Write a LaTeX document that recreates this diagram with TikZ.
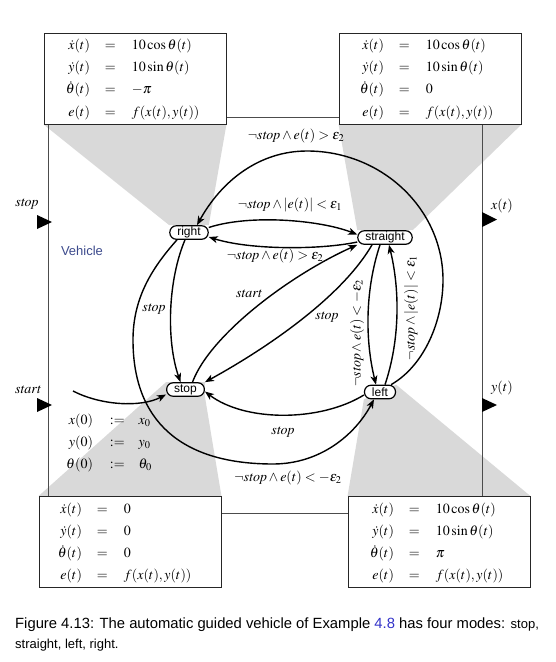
\documentclass[tikz,border=0pt]{standalone}
\usepackage{mathptmx}
\usepackage[no-math]{fontspec}
\newfontfamily\helv{Liberation Sans}
\usetikzlibrary{arrows.meta,backgrounds}
\definecolor{vehblue}{RGB}{60,74,140}
\definecolor{linkblue}{RGB}{50,50,200}
\tikzset{
  mode/.style={draw, line width=1.2pt, rounded corners=6.5pt, fill=white,
    font=\helv\fontsize{12}{14}\selectfont, inner xsep=7.5pt, inner ysep=0pt, minimum height=13.5pt},
  eqbox/.style={draw=black!85, line width=0.9pt, fill=white, minimum width=182pt, minimum height=91pt, inner sep=0pt},
  eqs/.style={inner sep=0pt, anchor=west, font=\fontsize{14}{17}\selectfont},
  trans/.style={line width=1.4pt, -{Stealth[length=9pt,width=7pt,inset=2.5pt]}},
  lbl/.style={inner sep=1pt, font=\fontsize{14}{17}\selectfont},
  shade/.style={fill=black!15},
  portmark/.style={fill=black},
}
\newcommand{\eqarray}[1]{$\renewcommand{\arraystretch}{1.3}\begin{array}{@{}r@{\hspace{15pt}}c@{\hspace{16pt}}l@{}}#1\end{array}$}
\begin{document}
\begin{tikzpicture}[x=1pt,y=-1pt]
\useasboundingbox (0,0) rectangle (556,662);

% mode nodes
\node[mode] (right) at (189,232.5) {right};
\node[mode] (straight) at (385,237.5) {straight};
\node[mode] (stop) at (185.5,389.5) {stop};
\node[mode] (left) at (380,392) {left};

% equation boxes
\node[eqbox] (tl) at (135,78.5) {};
\node[eqbox] (tr) at (430,78.5) {};
\node[eqbox] (bl) at (130,542) {};
\node[eqbox] (br) at (439,542) {};

\node[eqs] (tleq) at ([xshift=22pt]tl.west) {\eqarray{\dot{x}(t) & = & 10\cos\theta(t)\\ \dot{y}(t) & = & 10\sin\theta(t)\\ \dot{\theta}(t) & = & -\pi\\ e(t) & = & f(x(t),y(t))}};
\node[eqs] (treq) at ([xshift=21pt]tr.west) {\eqarray{\dot{x}(t) & = & 10\cos\theta(t)\\ \dot{y}(t) & = & 10\sin\theta(t)\\ \dot{\theta}(t) & = & 0\\ e(t) & = & f(x(t),y(t))}};
\node[eqs] (bleq) at ([xshift=19pt]bl.west) {\eqarray{\dot{x}(t) & = & 0\\ \dot{y}(t) & = & 0\\ \dot{\theta}(t) & = & 0\\ e(t) & = & f(x(t),y(t))}};
\node[eqs] (breq) at ([xshift=22pt]br.west) {\eqarray{\dot{x}(t) & = & 10\cos\theta(t)\\ \dot{y}(t) & = & 10\sin\theta(t)\\ \dot{\theta}(t) & = & \pi\\ e(t) & = & f(x(t),y(t))}};

\begin{scope}[on background layer]
  \fill[shade] (tl.south west) -- (tl.south east) -- (right.north east) -- (right.north west) -- cycle;
  \fill[shade] (tr.south west) -- (tr.south east) -- (straight.north east) -- (straight.north west) -- cycle;
  \fill[shade] (bl.north west) -- (bl.north east) -- (stop.south east) -- (stop.north east) -- (stop.north west) -- cycle;
  \fill[shade] (br.north west) -- (br.north east) -- (left.north east) -- (left.south west) -- cycle;
  \draw[black!70, line width=1pt] (48,117) rectangle (482,513);
\end{scope}

% ports
\fill[portmark] (37,215) -- (52,222) -- (37,229) -- cycle;
\fill[portmark] (37,398) -- (52,405) -- (37,412) -- cycle;
\fill[portmark] (482,212) -- (497,219.5) -- (482,227) -- cycle;
\fill[portmark] (482,398) -- (497,405) -- (482,412) -- cycle;
\node[lbl] (pstop) at (27,204) {$\mathit{stop}$};
\node[lbl] (pstart) at (28,390) {$\mathit{start}$};
\node[lbl] (px) at (502,206) {$x(t)$};
\node[lbl] (py) at (502,388) {$y(t)$};

\node[font=\helv\fontsize{13}{15}\selectfont, text=vehblue] (veh) at (82,251) {Vehicle};

% initial conditions
\node[eqs] (init) at (66,442) {$\renewcommand{\arraystretch}{1.3}\begin{array}{@{}r@{\hspace{17pt}}c@{\hspace{14pt}}l@{}} x(0) & := & x_0\\ y(0) & := & y_0\\ \theta(0) & := & \theta_0\end{array}$};

% transitions
\draw[trans] ([yshift=5pt]right.east) .. controls (250,214) and (320,220) .. ([yshift=3pt]straight.west);
\draw[trans] ([yshift=-4.5pt]straight.west) .. controls (320,250) and (250,250) .. ([yshift=-4.5pt]right.east);
\draw[trans] ([xshift=7pt]stop.north) .. controls (210,335) and (290,275) .. (straight.south west);
\draw[trans] ([xshift=-13pt]straight.south) .. controls (340,300) and (260,352) .. (stop.north east);
\draw[trans] ([xshift=-5pt]straight.south) .. controls (365,290) and (365,340) .. ([xshift=-4pt]left.north);
\draw[trans] ([xshift=5pt]left.north) .. controls (400,340) and (400,290) .. ([xshift=4pt]straight.south);
\draw[trans] ([xshift=-4pt]right.south) .. controls (168,280) and (166,340) .. ([xshift=-5pt]stop.north);
\draw[trans] ([yshift=-3pt]left.west) .. controls (320,422) and (245,422) .. ([yshift=-2pt]stop.east);
\draw[trans] ([xshift=-5pt]left.north east) .. controls (425,365) and (443,320) .. (443,280)
   .. controls (443,209) and (382,151) .. (307,151) .. controls (260,151) and (222,180) .. ([xshift=8pt]right.north);
\draw[trans] ([xshift=-12pt]right.south) .. controls (150,270) and (133,300) .. (133,340)
   .. controls (133,420) and (180,464) .. (273,464) .. controls (320,464) and (355,435) .. ([xshift=-6pt]left.south);
\coordinate (initpt) at (73,391);
\draw[trans] (initpt) .. controls (100,405) and (140,408) .. ([yshift=-5pt]stop.west);

% labels
\node[lbl] (l1) at (290,205) {$\neg\mathit{stop}\wedge|e(t)|<\varepsilon_1$};
\node[lbl] (l2) at (275,256) {$\neg\mathit{stop}\wedge e(t)>\varepsilon_2$};
\node[lbl] (l3) at (249,294) {$\mathit{start}$};
\node[lbl] (l4) at (327,317) {$\mathit{stop}$};
\node[lbl, rotate=90] (l5) at (357,333) {$\neg\mathit{stop}\wedge e(t)<-\varepsilon_2$};
\node[lbl, rotate=90] (l6) at (411,308) {$\neg\mathit{stop}\wedge|e(t)|<\varepsilon_1$};
\node[lbl] (l7) at (154,309) {$\mathit{stop}$};
\node[lbl] (l8) at (283,432) {$\mathit{stop}$};
\node[lbl] (l9) at (296,136) {$\neg\mathit{stop}\wedge e(t)>\varepsilon_2$};
\node[lbl] (l10) at (288,478) {$\neg\mathit{stop}\wedge e(t)<-\varepsilon_2$};

% caption
\node[anchor=west, inner sep=0pt, font=\helv\fontsize{14.8}{17}\selectfont] (cap1) at (15,625)
  {Figure 4.13: The automatic guided vehicle of Example \textcolor{linkblue}{4.8} has four modes: {\fontsize{13}{15}\selectfont stop,}};
\node[anchor=west, inner sep=0pt, font=\helv\fontsize{13}{15}\selectfont] (cap2) at (15,645)
  {straight, left, right.};
\end{tikzpicture}
\end{document}
